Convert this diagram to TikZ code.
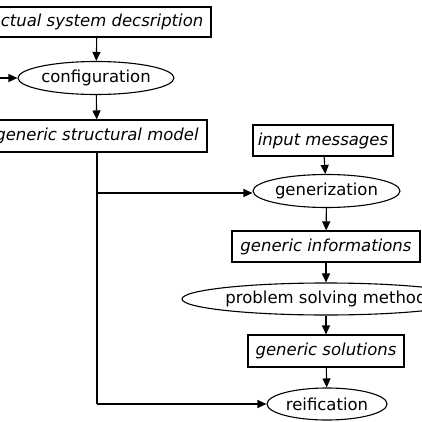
\documentclass[tikz,border=0pt]{standalone}
\usepackage{fontspec}
\setmainfont{DejaVu Sans}
\usetikzlibrary{shapes.geometric,arrows.meta}
\begin{document}
\begin{tikzpicture}[x=1pt,y=-1pt,
  font=\fontsize{16.5}{18}\selectfont,
  line width=1.1pt,
  box/.style={draw,rectangle,inner sep=0pt,font=\fontsize{16.5}{18}\selectfont\itshape},
  oval/.style={draw,ellipse,inner sep=0pt},
  arr/.style={-{Triangle[length=9pt,width=8pt]}}]
\useasboundingbox (0,0) rectangle (422,422);
\clip (0,0) rectangle (422,422);
\fill[white] (0,0) rectangle (422,422);
\node[box,minimum width=228pt,minimum height=30pt] (asd) at (97,22) {actual system decsription};
\node[oval,minimum width=156pt,minimum height=33pt] (conf) at (96,78) {configuration};
\node[box,minimum width=220pt,minimum height=32pt] (gsm) at (97,136) {generic structural model};
\node[box,minimum width=140pt,minimum height=31pt] (inp) at (323,140.5) {input messages};
\node[oval,minimum width=147pt,minimum height=33pt] (gen) at (326.5,191) {generization};
\node[box,minimum width=188pt,minimum height=31pt] (ginf) at (326,246.5) {generic informations};
\node[oval,minimum width=288pt,minimum height=32pt] (psm) at (326,299) {problem solving method};
\node[box,minimum width=156pt,minimum height=32pt] (gsol) at (326,351) {generic solutions};
\node[oval,minimum width=120pt,minimum height=32pt] (reif) at (327,404) {reification};
\coordinate (inl) at (-20,78);
\coordinate (br) at (97,193);
\coordinate (bot) at (97,404);
\draw[arr] (asd) -- (conf);
\draw[arr] (inl) -- (conf.west);
\draw[arr] (conf) -- (gsm);
\draw (gsm.south) -- (bot);
\draw[arr] (bot) -- (reif.west);
\draw[arr] (br) -- (br -| gen.west);
\draw[arr] (inp) -- (gen);
\draw[arr] (gen) -- (ginf);
\draw[arr] (ginf) -- (psm);
\draw[arr] (psm) -- (gsol);
\draw[arr] (gsol) -- (reif);
\end{tikzpicture}
\end{document}
